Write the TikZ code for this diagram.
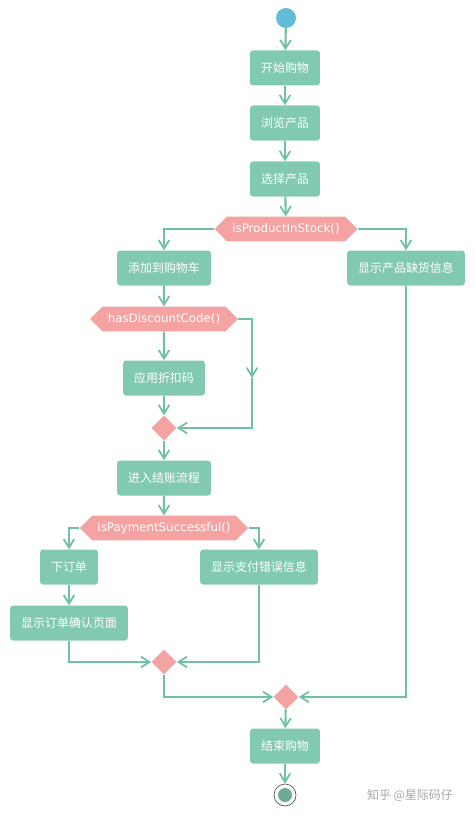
\documentclass[tikz,border=0pt]{standalone}
\usepackage{xcolor}
\usepackage{fontspec}
\setmainfont{DejaVu Sans}
\newfontfamily\cjk{Noto Sans CJK SC}
\usepackage{tikz}
\usetikzlibrary{shapes,shapes.geometric,shapes.symbols,arrows.meta,positioning,calc}

\definecolor{actfill}{HTML}{82C9B2}
\definecolor{flowline}{HTML}{6FC0A7}
\definecolor{testfill}{HTML}{F4A2A2}
\definecolor{startfill}{HTML}{62BDD6}

\begin{document}
\begin{tikzpicture}[
    x=0.03cm, y=-0.03cm,
    act/.style={rectangle, rounded corners=2.5pt, fill=actfill, text=white, minimum height=1.05cm, inner xsep=0.33cm, font=\cjk\fontsize{10.2}{12}\selectfont},
    test/.style={signal, signal to=west and east, signal pointer angle=90, fill=testfill, text=white, minimum height=0.74cm, inner xsep=0.16cm, inner ysep=0pt, font=\fontsize{10.1}{12}\selectfont},
    merge/.style={diamond, fill=testfill, minimum width=0.75cm, minimum height=0.75cm, inner sep=0pt},
    arrow/.style={-{Straight Barb[length=2.6mm, width=3.2mm, line width=1.5pt]}, line width=1.8pt, draw=flowline},
]
    \useasboundingbox (0,0) rectangle (474,816);

    \node[circle, fill=startfill, minimum size=0.6cm, inner sep=0pt] (start) at (286,18) {};
    \node[act] (shop) at (285,68) {开始购物};
    \node[act] (browse) at (285,123) {浏览产品};
    \node[act] (choose) at (285,179) {选择产品};
    \node[test] (stock) at (286,229) {isProductInStock()};
    \node[act] (add) at (164,268) {添加到购物车};
    \node[act] (nostock) at (406,268) {显示产品缺货信息};
    \node[test] (discount) at (164,319) {hasDiscountCode()};
    \node[act] (apply) at (164,378) {应用折扣码};
    \node[merge] (merge1) at (164,428) {};
    \node[act] (checkout) at (164,478) {进入结账流程};
    \node[test] (pay) at (164,528) {isPaymentSuccessful()};
    \node[act] (order) at (69,567) {下订单};
    \node[act] (payerr) at (259,567) {显示支付错误信息};
    \node[act] (confirm) at (69,623) {显示订单确认页面};
    \node[merge] (merge2) at (164,662) {};
    \node[merge] (merge3) at (286,697) {};
    \node[act] (finish) at (285,746) {结束购物};
    \node[circle, draw=black!65, fill=white, line width=0.6pt, minimum size=0.66cm, inner sep=0pt] (stop) at (285,795) {};
    \node[circle, fill=actfill!85!black, minimum size=0.42cm, inner sep=0pt] (stopdot) at (stop) {};
    \node[font=\cjk\fontsize{10.2}{12}\selectfont, text=black!35] (mark) at (410,795) {知乎 @星际码仔};

    \coordinate (skip) at (252,378);

    \draw[arrow] (start) -- (shop);
    \draw[arrow] (shop) -- (browse);
    \draw[arrow] (browse) -- (choose);
    \draw[arrow] (choose) -- (stock);
    \draw[arrow] (stock.west) -| (add);
    \draw[arrow] (stock.east) -| (nostock);
    \draw[arrow] (add) -- (discount);
    \draw[arrow] (discount) -- (apply);
    \draw[arrow] (apply) -- (merge1);
    \draw[arrow] (discount.east) -| (skip);
    \draw[arrow] (skip) |- (merge1.east);
    \draw[arrow] (merge1) -- (checkout);
    \draw[arrow] (checkout) -- (pay);
    \draw[arrow] (pay.west) -| (order);
    \draw[arrow] (pay.east) -| (payerr);
    \draw[arrow] (order) -- (confirm);
    \draw[arrow] (confirm) |- (merge2.west);
    \draw[arrow] (payerr) |- (merge2.east);
    \draw[arrow] (merge2) |- (merge3.west);
    \draw[arrow] (nostock) |- (merge3.east);
    \draw[arrow] (merge3) -- (finish);
    \draw[arrow] (finish) -- (stop);
\end{tikzpicture}
\end{document}
